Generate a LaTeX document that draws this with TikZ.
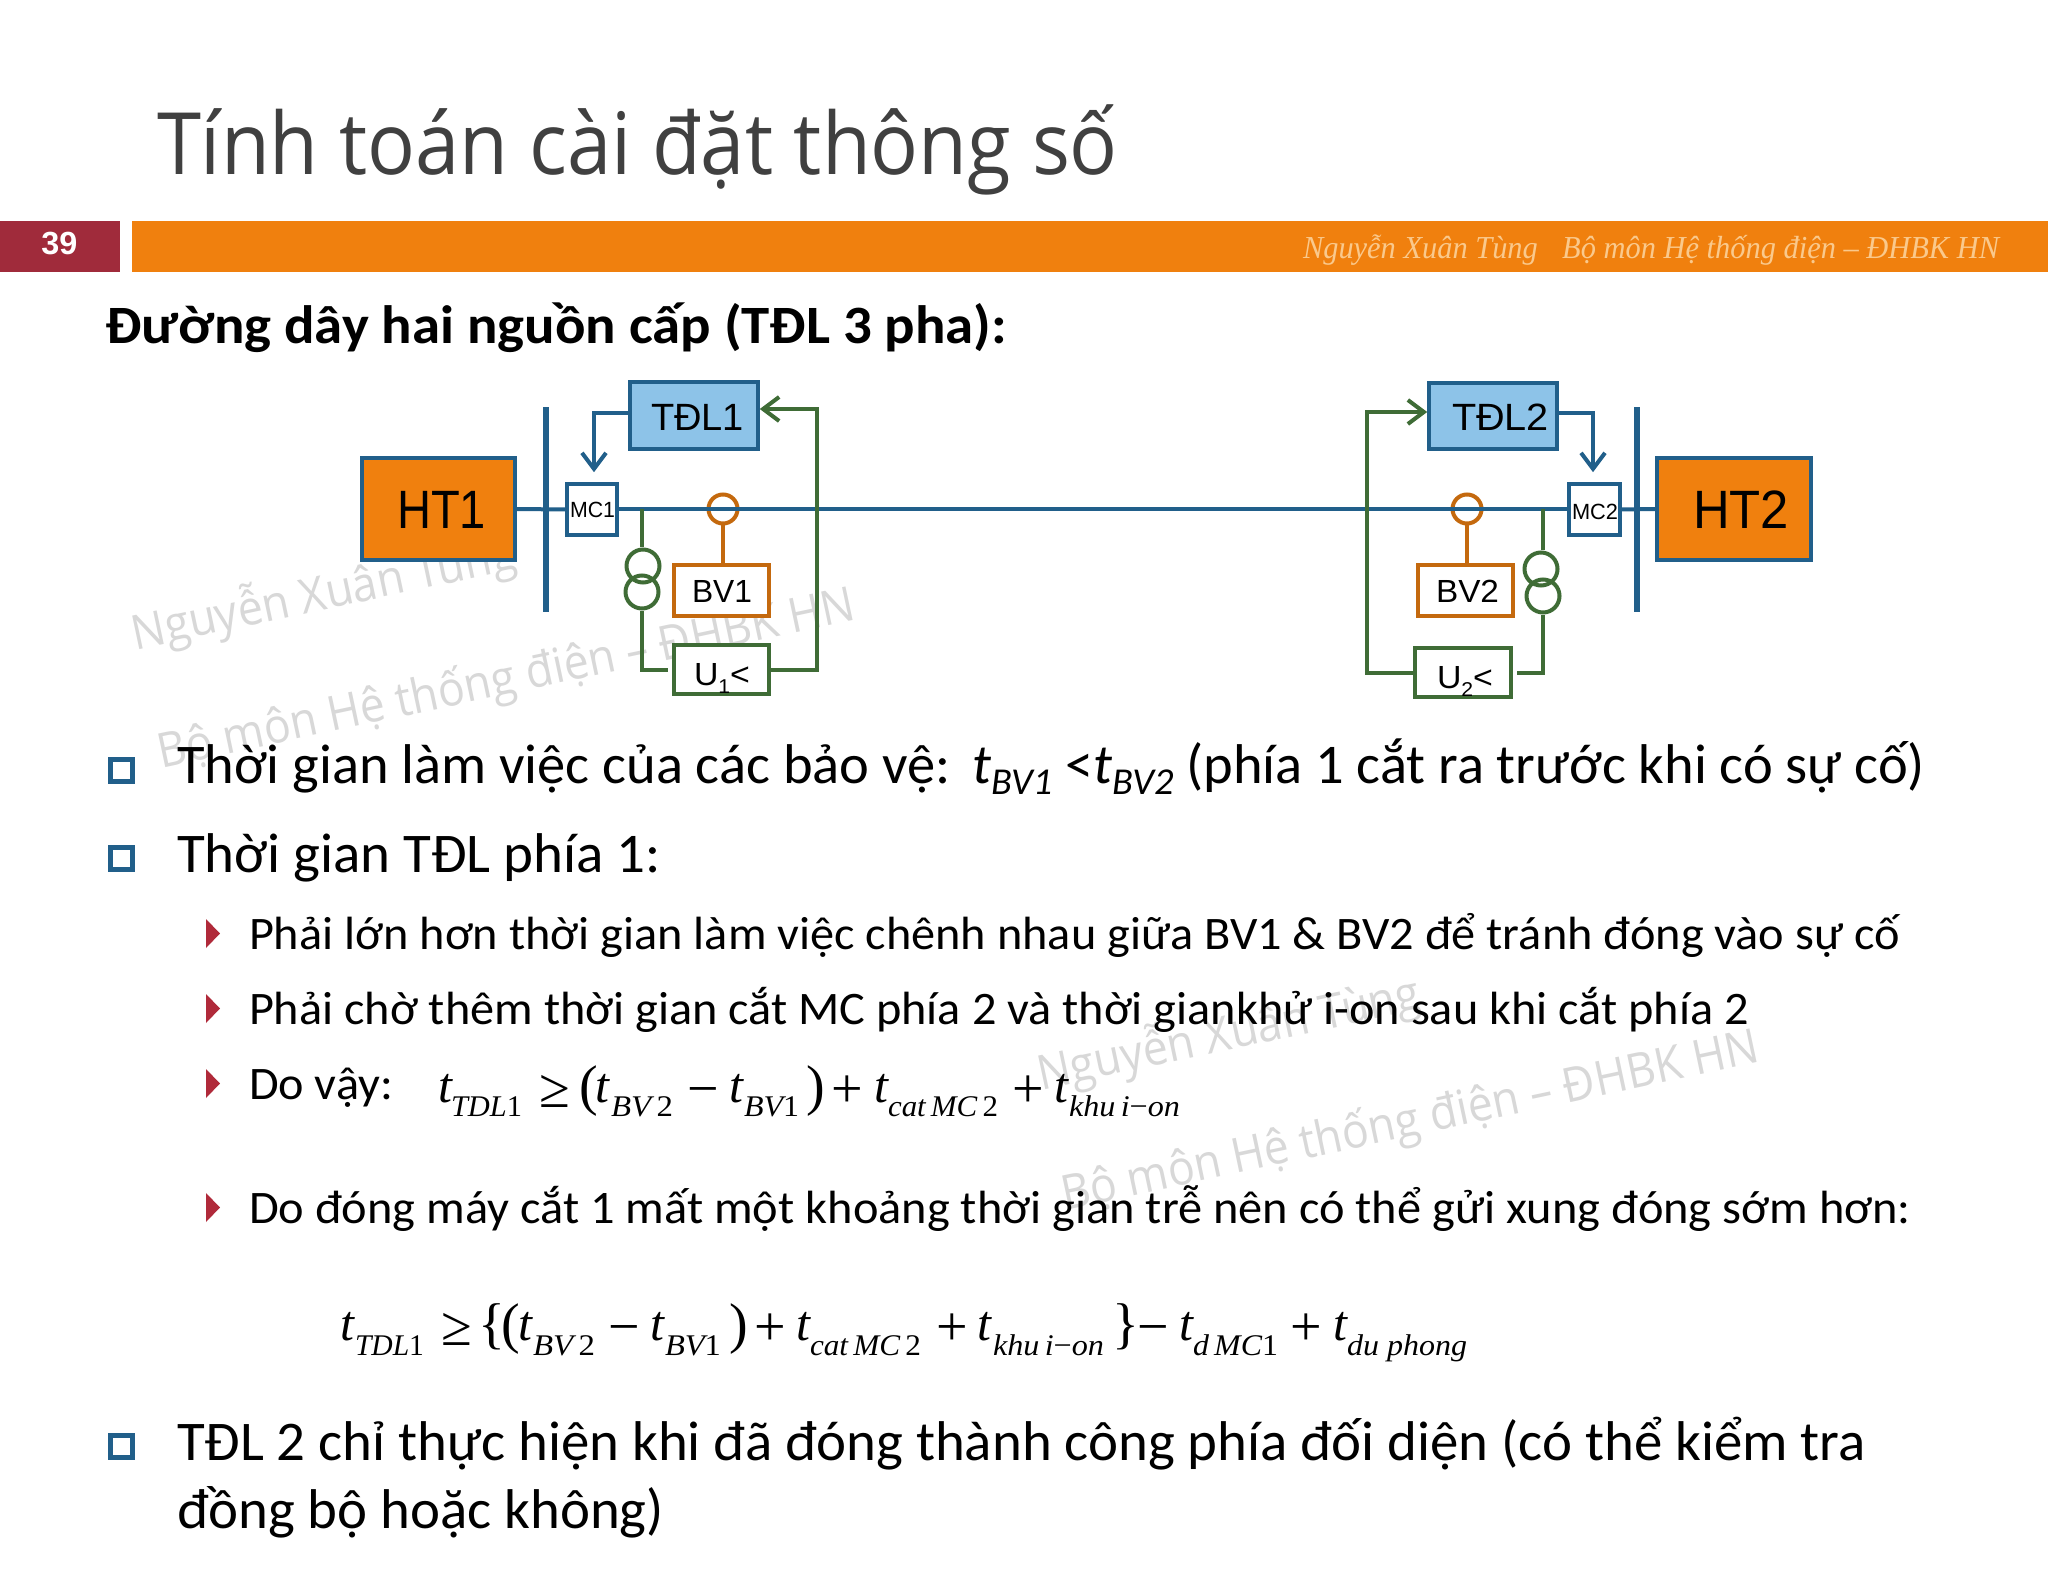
\documentclass[tikz,border=0pt]{standalone}
\usepackage{fontspec}
\usepackage{graphicx}
\usetikzlibrary{arrows.meta,calc}
\setmainfont{Carlito}
\newfontfamily\hdfont{Open Sans}
\newfontfamily\sansf{Liberation Sans}
\newfontfamily\serf{Liberation Serif}
\definecolor{cblue}{HTML}{215F8A}
\definecolor{corange}{HTML}{F0800E}
\definecolor{clight}{HTML}{8DC3E8}
\definecolor{cred}{HTML}{A02B3B}
\definecolor{ctri}{HTML}{B02A3A}
\definecolor{cgreen}{HTML}{3F6C36}
\definecolor{cbrown}{HTML}{C4690E}
\definecolor{cwater}{HTML}{D8D8D8}
\definecolor{chead}{HTML}{FAC98C}
\definecolor{ctitle}{HTML}{404040}
\newsavebox\fbx
\newlength\fl
\newcount\nc
\newcommand\fsz[1]{\fontsize{#1}{#1}\selectfont}
% fit horizontally to #1 px
\newcommand\fitx[2]{\sbox\fbx{#2}\setlength\fl{\wd\fbx}\pgfmathsetmacro\fr{#1*0.5/\the\fl}\scalebox{\fr}[1]{\usebox\fbx}}
% text line: name x y x2 fontcmd text
\newcommand\tx[7][black]{\pgfmathsetmacro\tw{#5-#3}\node[txt,text=#1] (#2) at (#3,#4) {\fitx{\tw}{\fsz{#6}#7}};}
% equation parts
\newcommand\eqm[4]{\global\advance\nc by 1 \node[txt] (eq\the\nc) at (#1,#2) {\serf\fsz{#3}#4};}
\newcommand\eqs[4]{\global\advance\nc by 1 \pgfmathsetmacro\tw{#2-#1}\node[txt] (eq\the\nc) at (#1,#3) {\fitx{\tw}{\serf\fsz{15}\itshape #4}};}
% box: name style x1 y1 x2 y2 tx1 tx2 base size text
\newcommand\bx[3]{\def\bxn{#1}\def\bxs{#2}\def\bxc{#3}\bxb}
\newcommand\bxb[8]{\pgfmathsetmacro\cx{(\bxc+#2)/2}\pgfmathsetmacro\cy{(#1+#3)/2}\pgfmathsetmacro\wb{(#2-\bxc)/2+0.8}\pgfmathsetmacro\hb{(#3-#1)/2+0.8}\pgfmathsetmacro\th{(#6-(#1+#3)/2)}\pgfmathsetmacro\tof{(#4+#5)/2-(\bxc+#2)/2}\pgfmathsetmacro\tw{#5-#4}%
\node[\bxs,minimum width=\wb pt,minimum height=\hb pt,text height=\th pt,text depth=0pt] (\bxn) at (\cx,\cy) {\hspace*{\tof pt}\fitx{\tw}{\sansf\fsz{#7}#8}};}
\newcommand\lsub[1]{\raisebox{-0.2em}{\fsz{19}\itshape #1}}
\tikzset{
 txt/.style={anchor=base west,inner sep=0pt,outer sep=0pt,text=black},
 wm/.style={anchor=base west,inner sep=0pt,outer sep=0pt,rotate=12,text=cwater},
 hbox/.style={draw=cblue,line width=2pt,fill=corange,inner sep=0pt},
 tbox/.style={draw=cblue,line width=2pt,fill=clight,inner sep=0pt},
 mbox/.style={draw=cblue,line width=2pt,fill=white,inner sep=0pt},
 obox/.style={draw=cbrown,line width=2pt,fill=white,inner sep=0pt},
 gbox/.style={draw=cgreen,line width=2pt,fill=white,inner sep=0pt},
 busbar/.style={fill=cblue,inner sep=0pt,minimum width=3pt,minimum height=102.5pt},
 ctc/.style={draw=cbrown,line width=2pt,circle,inner sep=0pt,minimum size=14.5pt},
 vtc/.style={draw=cgreen,line width=2pt,circle,inner sep=0pt,minimum size=16.5pt},
 bline/.style={draw=cblue,line width=2pt},
 oline/.style={draw=cbrown,line width=2pt},
 gline/.style={draw=cgreen,line width=2pt},
 barb/.style={-{Straight Barb[length=8pt,width=12pt,line width=2pt]}},
 sqb/.style={draw=cblue,line width=2.5pt,fill=white,inner sep=0pt,minimum size=11pt},
 tri/.style={fill=ctri,draw=none},
}
\begin{document}
\begin{tikzpicture}[x=0.5pt,y=-0.5pt]
\useasboundingbox (0,0) rectangle (2048,1582);
\fill[white] (0,0) rectangle (2048,1582);
% watermarks
\node[wm] (w1) at (135,650) {\fitx{392}{\hdfont\fsz{24}Nguyễn Xuân Tùng}};
\node[wm] (w2) at (161,768) {\fitx{712}{\hdfont\fsz{24}Bộ môn Hệ thống điện – ĐHBK HN}};
\node[wm] (w3) at (1041,1090) {\fitx{390}{\hdfont\fsz{24}Nguyễn Xuân Tùng}};
\node[wm] (w4) at (1065,1210) {\fitx{712}{\hdfont\fsz{24}Bộ môn Hệ thống điện – ĐHBK HN}};
% header
\tx[ctitle]{title}{157}{175}{1118}{43}{\hdfont Tính toán cài đặt thông số}
\fill[cred] (0,221) rectangle (120,272);
\fill[corange] (132,221) rectangle (2048,272);
\node[anchor=base west,inner sep=0pt,text=white] (pg) at (41,255) {\fitx{36}{\sansf\bfseries\fsz{16}39}};
\tx[chead]{hd}{1303}{259}{1999}{16}{\serf\itshape Nguyễn Xuân Tùng\hspace{0.8em}Bộ môn Hệ thống điện – ĐHBK HN}
\tx{h2}{105}{344}{1007}{27}{\bfseries Đường dây hai nguồn cấp (TĐL 3 pha):}
% diagram nodes
\bx{ht1}{hbox}{363}{459}{514}{559}{397}{486}{529}{27}{HT1}
\bx{ht2}{hbox}{1658}{459}{1810}{559}{1693}{1789}{529}{27}{HT2}
\node[busbar] (bus1) at (546,509.5) {};
\node[busbar] (bus2) at (1637,509.5) {};
\bx{mc1}{mbox}{568}{485}{616}{534}{570}{615}{518}{11}{MC1}
\bx{mc2}{mbox}{1570}{485}{1619}{534}{1572}{1618}{520}{11}{MC2}
\bx{tdl1}{tbox}{631}{383}{757}{448}{651}{744}{431}{19}{TĐL1}
\bx{tdl2}{tbox}{1430}{384}{1556}{448}{1452}{1549}{431}{19}{TĐL2}
\bx{bv1}{obox}{675}{566}{768}{615}{692}{752}{603}{16}{BV1}
\bx{bv2}{obox}{1419}{566}{1512}{615}{1436}{1499}{603}{16}{BV2}
\bx{u1}{gbox}{675}{646}{768}{693}{694}{750}{685}{16}{U\raisebox{-0.25em}{\fsz{10}1}<}
\bx{u2}{gbox}{1416}{649}{1510}{696}{1437}{1493}{688}{16}{U\raisebox{-0.25em}{\fsz{10}2}<}
\node[ctc] (ct1) at (723,509) {};
\node[ctc] (ct2) at (1467,509) {};
\node[vtc] (v1a) at (643,566) {};
\node[vtc] (v1b) at (642,592) {};
\node[vtc] (v2a) at (1541,569) {};
\node[vtc] (v2b) at (1543,596) {};
\coordinate (tap1) at (642,509);
\coordinate (tap2) at (1543,509);
\coordinate (fb1) at (817,409);
\coordinate (fb2) at (1367,412);
\coordinate (fb2b) at (1593,413);
\coordinate (fb1b) at (594,413);
% main line
\draw[bline] (ht1.east) -- (mc1.west);
\draw[bline] (mc1.east) -- (mc2.west);
\draw[bline] (mc2.east) -- (ht2.west);
% blue trip arrows
\draw[bline,barb,shorten >=5pt] (tdl1.west |- fb1b) -- (fb1b) -- (fb1b |- mc1.north);
\draw[bline,barb,shorten >=5pt] (tdl2.east |- fb2b) -- (fb2b) -- (fb2b |- mc2.north);
% protection
\draw[oline] (ct1.south) -- (ct1.south |- bv1.north);
\draw[oline] (ct2.south) -- (ct2.south |- bv2.north);
% voltage
\draw[gline] (tap1) -- (tap1 |- v1a.north);
\draw[gline] (tap2) -- (tap2 |- v2a.north);
\draw[gline,shorten >=2pt] (v1b.south) |- (u1.west);
\draw[gline,shorten >=2pt] (v2b.south) |- (u2.east);
\draw[gline,barb] (u1.east) -| (fb1) -- (tdl1.east |- fb1);
\draw[gline,barb] (u2.west) -| (fb2) -- (tdl2.west |- fb2);
% bullets
\node[sqb] (s1) at (121.5,770) {};
\node[sqb] (s2) at (121.5,858.5) {};
\node[sqb] (s3) at (121.5,1446) {};
\fill[tri] (206,919) -- (220,933.5) -- (206,948) -- cycle;
\fill[tri] (206,994) -- (220,1008.5) -- (206,1023) -- cycle;
\fill[tri] (206,1069) -- (220,1083.5) -- (206,1098) -- cycle;
\fill[tri] (206,1193) -- (220,1207.5) -- (206,1222) -- cycle;
% text
\tx{l1}{177}{783}{1925}{28}{Thời gian làm việc của các bảo vệ:\hspace{0.38em}\textit{t}\lsub{BV1} <\textit{t}\lsub{BV2} (phía 1 cắt ra trước khi có sự cố)}
\tx{l2}{177}{872}{661}{28}{Thời gian TĐL phía 1:}
\tx{l3}{249}{949}{1900}{23.3}{Phải lớn hơn thời gian làm việc chênh nhau giữa BV1 \& BV2 để tránh đóng vào sự cố}
\tx{l4}{249}{1024}{1749}{23.3}{Phải chờ thêm thời gian cắt MC phía 2 và thời giankhử i-on sau khi cắt phía 2}
\tx{l5}{249}{1099}{393}{23.3}{Do vậy:}
\tx{l6}{249}{1223}{1911}{23.3}{Do đóng máy cắt 1 mất một khoảng thời gian trễ nên có thể gửi xung đóng sớm hơn:}
\tx{l7}{177}{1460}{1866}{28}{TĐL 2 chỉ thực hiện khi đã đóng thành công phía đối diện (có thể kiểm tra}
\tx{l8}{177}{1528}{664}{28}{đồng bộ hoặc không)}
% equation 1
\eqm{438}{1102}{25}{\itshape t}
\eqs{451}{522}{1116}{TDL\upshape 1}
\eqm{539}{1107}{28}{≥}
\eqm{579}{1104}{28}{(}
\eqm{595}{1102}{25}{\itshape t}
\eqs{611}{673}{1116}{BV\,\upshape 2}
\eqm{687}{1107}{28}{−}
\eqm{729}{1102}{25}{\itshape t}
\eqs{744}{799}{1116}{BV\upshape 1}
\eqm{806}{1104}{28}{)}
\eqm{831}{1107}{28}{+}
\eqm{874}{1102}{25}{\itshape t}
\eqs{888}{998}{1116}{cat\,MC\,\upshape 2}
\eqm{1012}{1107}{28}{+}
\eqm{1054}{1102}{25}{\itshape t}
\eqs{1069}{1180}{1116}{khu\,i\upshape −\itshape on}
% equation 2
\eqm{340}{1340}{25}{\itshape t}
\eqs{355}{424}{1355}{TDL\upshape 1}
\eqm{441}{1345}{28}{≥}
\eqm{478}{1342}{28}{\{}
\eqm{501}{1342}{28}{(}
\eqm{518}{1340}{25}{\itshape t}
\eqs{533}{595}{1355}{BV\,\upshape 2}
\eqm{608}{1345}{28}{−}
\eqm{650}{1340}{25}{\itshape t}
\eqs{665}{721}{1355}{BV\upshape 1}
\eqm{729}{1342}{28}{)}
\eqm{754}{1345}{28}{+}
\eqm{796}{1340}{25}{\itshape t}
\eqs{810}{921}{1355}{cat\,MC\,\upshape 2}
\eqm{936}{1345}{28}{+}
\eqm{977}{1340}{25}{\itshape t}
\eqs{993}{1104}{1355}{khu\,i\upshape −\itshape on}
\eqm{1112}{1342}{28}{\}}
\eqm{1137}{1345}{28}{−}
\eqm{1179}{1340}{25}{\itshape t}
\eqs{1193}{1278}{1355}{d\,MC\upshape 1}
\eqm{1290}{1345}{28}{+}
\eqm{1333}{1340}{25}{\itshape t}
\eqs{1347}{1467}{1355}{du phong}
\end{tikzpicture}
\end{document}
